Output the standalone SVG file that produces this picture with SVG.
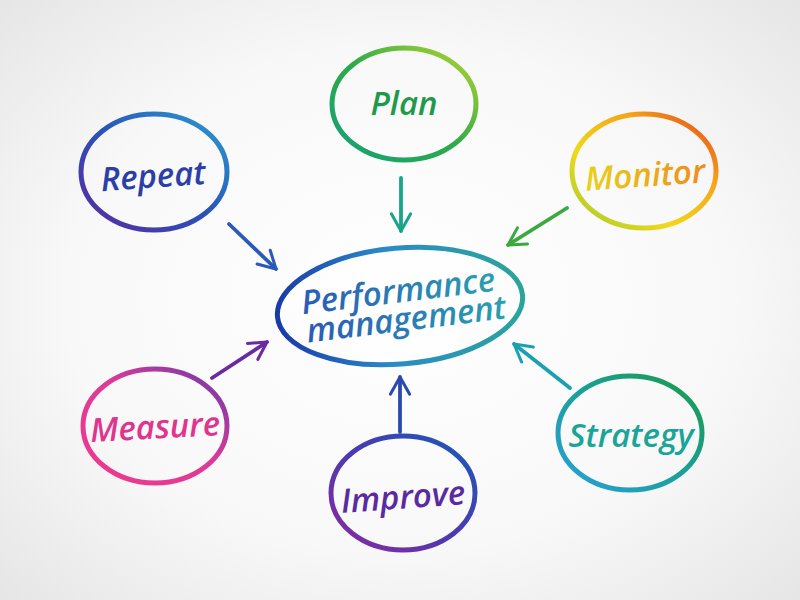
<svg xmlns="http://www.w3.org/2000/svg" width="800" height="600" viewBox="0 0 800 600">
<defs>
<radialGradient id="bg" cx="50%" cy="50%" r="70%">
<stop offset="0" stop-color="#ffffff"/><stop offset="0.6" stop-color="#f8f8f8"/><stop offset="1" stop-color="#e6e6e6"/>
</radialGradient>
<linearGradient id="gPlan" x1="0" y1="1" x2="1" y2="0"><stop offset="0" stop-color="#13a07a"/><stop offset="0.5" stop-color="#2eaa48"/><stop offset="1" stop-color="#b8d630"/></linearGradient>
<linearGradient id="gRepeat" x1="0" y1="1" x2="1" y2="0"><stop offset="0" stop-color="#5a2aa0"/><stop offset="0.5" stop-color="#2a52b8"/><stop offset="1" stop-color="#2a9ed0"/></linearGradient>
<linearGradient id="gMonitor" x1="0" y1="1" x2="1" y2="0"><stop offset="0" stop-color="#9ccc30"/><stop offset="0.35" stop-color="#f2d81a"/><stop offset="0.7" stop-color="#f4a41a"/><stop offset="1" stop-color="#e2401a"/></linearGradient>
<linearGradient id="gMonText" x1="0" y1="0" x2="1" y2="0"><stop offset="0" stop-color="#e8d21a"/><stop offset="1" stop-color="#f08a1a"/></linearGradient>
<linearGradient id="gMeasure" x1="0" y1="1" x2="1" y2="0"><stop offset="0" stop-color="#f03a8a"/><stop offset="0.55" stop-color="#dc3a9a"/><stop offset="1" stop-color="#6a3aa8"/></linearGradient>
<linearGradient id="gStrategy" x1="0" y1="1" x2="1" y2="0"><stop offset="0" stop-color="#2aa0d8"/><stop offset="0.5" stop-color="#1aa09a"/><stop offset="1" stop-color="#1a9a4a"/></linearGradient>
<linearGradient id="gImprove" x1="0" y1="1" x2="1" y2="0"><stop offset="0" stop-color="#8a2aa0"/><stop offset="0.5" stop-color="#4a3ab0"/><stop offset="1" stop-color="#1a5ab8"/></linearGradient>
<linearGradient id="gCenter" x1="0" y1="0" x2="1" y2="0"><stop offset="0" stop-color="#1a3aa8"/><stop offset="0.45" stop-color="#2a8ac8"/><stop offset="1" stop-color="#2aa59a"/></linearGradient>
<linearGradient id="gCenterText" x1="0" y1="0" x2="1" y2="0"><stop offset="0" stop-color="#2a5ab8"/><stop offset="1" stop-color="#2aa0b0"/></linearGradient>
<marker id="ah" viewBox="0 0 12 12" refX="10" refY="6" markerWidth="6" markerHeight="6" orient="auto" markerUnits="strokeWidth">
<path d="M1,1 L10,6 L1,11" fill="none" stroke="context-stroke" stroke-width="1.6" stroke-linecap="round" stroke-linejoin="round"/>
</marker>
</defs>
<style>
.ring{fill:none;stroke-width:5}
.lbl{font-family:"Open Sans","Liberation Sans",sans-serif;font-style:italic;font-weight:600;font-size:33px;text-anchor:middle;dominant-baseline:central}
.arr{fill:none;stroke-width:3.8;stroke-linecap:round}
</style>
<rect width="800" height="600" fill="url(#bg)"/>
<g id="connectors">
<line class="arr" x1="401" y1="178" x2="401" y2="231" stroke="#1aa48a" marker-end="url(#ah)"/>
<line class="arr" x1="229" y1="224" x2="276" y2="269" stroke="#2a5ab8" marker-end="url(#ah)"/>
<line class="arr" x1="567" y1="208" x2="508" y2="245" stroke="#3aaa40" marker-end="url(#ah)"/>
<line class="arr" x1="212" y1="378" x2="267" y2="342" stroke="#6a2aa0" marker-end="url(#ah)"/>
<line class="arr" x1="400" y1="432" x2="400" y2="377" stroke="#2a4ab0" marker-end="url(#ah)"/>
<line class="arr" x1="570" y1="388" x2="514" y2="344" stroke="#1aa0b0" marker-end="url(#ah)"/>
</g>
<g id="center">
<ellipse class="ring" cx="400" cy="306" rx="123" ry="58" transform="rotate(-5 400 306)" stroke="url(#gCenter)"/>
<text class="lbl" x="398" y="290" font-size="29" fill="url(#gCenterText)" transform="rotate(-7 398 290)">Performance</text>
<text class="lbl" x="406" y="318" font-size="29" fill="url(#gCenterText)" transform="rotate(-7 406 318)">management</text>
</g>
<g id="plan">
<ellipse class="ring" cx="404" cy="104" rx="72" ry="56" stroke="url(#gPlan)"/>
<text class="lbl" x="404" y="102" font-size="40" fill="#1f9a4c">Plan</text>
</g>
<g id="repeat">
<ellipse class="ring" cx="154" cy="172" rx="73" ry="58" stroke="url(#gRepeat)"/>
<text class="lbl" x="153" y="175" font-size="32" fill="#2a40a8" transform="rotate(-4 153 175)">Repeat</text>
</g>
<g id="monitor">
<ellipse class="ring" cx="644" cy="171" rx="72" ry="57" stroke="url(#gMonitor)"/>
<text class="lbl" x="645" y="174" font-size="32" fill="url(#gMonText)" transform="rotate(-4 645 174)">Monitor</text>
</g>
<g id="measure">
<ellipse class="ring" cx="155" cy="426" rx="72" ry="57" stroke="url(#gMeasure)"/>
<text class="lbl" x="155" y="426" font-size="30" fill="#e0358e" transform="rotate(-3 155 426)">Measure</text>
</g>
<g id="strategy">
<ellipse class="ring" cx="630" cy="433" rx="72" ry="57" stroke="url(#gStrategy)"/>
<text class="lbl" x="631" y="434" font-size="30" fill="#1aa49a">Strategy</text>
</g>
<g id="improve">
<ellipse class="ring" cx="403" cy="493" rx="72" ry="57" stroke="url(#gImprove)"/>
<text class="lbl" x="403" y="496" font-size="32" fill="#5a2aa0" transform="rotate(-4 403 496)">Improve</text>
</g>
</svg>
